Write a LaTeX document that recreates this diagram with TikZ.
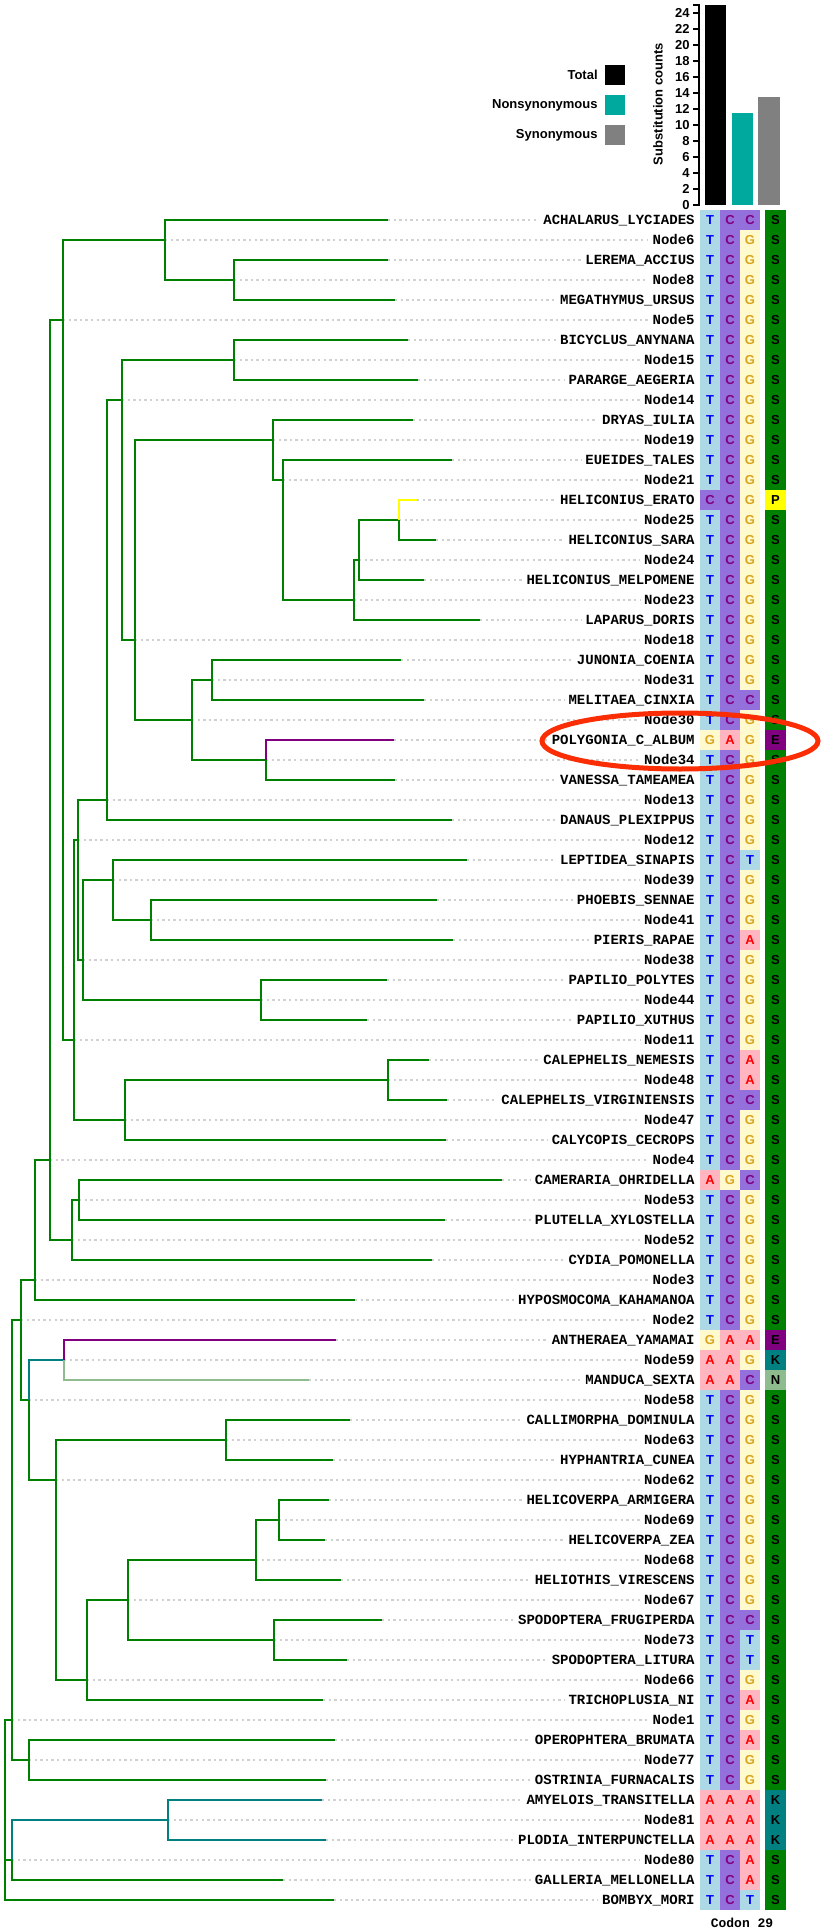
\documentclass[tikz,border=0pt]{standalone}
\usepackage{fontspec}
\setsansfont{Liberation Sans}
\setmonofont{Liberation Mono}
\definecolor{aaS}{HTML}{008000}
\definecolor{aaP}{HTML}{FFFF00}
\definecolor{aaE}{HTML}{800080}
\definecolor{aaK}{HTML}{008080}
\definecolor{aaN}{HTML}{8FBC8F}
\definecolor{bgT}{HTML}{ADD8E6}
\definecolor{fgT}{HTML}{0000FF}
\definecolor{bgC}{HTML}{9370DB}
\definecolor{fgC}{HTML}{800080}
\definecolor{bgG}{HTML}{FFFACD}
\definecolor{fgG}{HTML}{DAA520}
\definecolor{bgA}{HTML}{FFB6C1}
\definecolor{fgA}{HTML}{FF0000}
\definecolor{nonsyn}{HTML}{00A99D}
\definecolor{syn}{HTML}{808080}
\definecolor{ringred}{HTML}{FA2D05}

\begin{document}
\begin{tikzpicture}[x=0.5pt, y=-0.5pt,
    br/.style={line width=1pt, draw=aaS},
    dots/.style={draw=black!18, line width=0.8pt, dash pattern=on 1.2pt off 1.6pt, shorten >=2pt},
    lab/.style={anchor=east, inner sep=0pt, text height=4.4pt, text depth=0pt,
        font=\ttfamily\bfseries\fontsize{7}{8}\selectfont},
    cell/.style={minimum width=10pt, minimum height=10pt, inner sep=0pt,
        text height=4.6pt, text depth=0pt, font=\sffamily\bfseries\fontsize{6.5}{7}\selectfont},
    nuc/.style={cell, fill=bg#1, text=fg#1},
    prot/.style={cell, minimum width=10.5pt, fill=aa#1},
    ax/.style={inner sep=0pt, font=\sffamily\bfseries\fontsize{6.5}{7}\selectfont}]
\useasboundingbox (0,0) rectangle (825,1930);

% counts
\fill[black] (705,5) rectangle (726,205);
\fill[nonsyn] (732,113) rectangle (753,205);
\fill[syn] (758,97) rectangle (780,205);
\draw[line width=0.6pt] (693,5) -- (699,5) -- (699,205) -- (693,205);
\foreach \v in {0,2,...,24} {
    \draw[line width=0.6pt] (693,205-8*\v) -- (699,205-8*\v);
    \node[ax, anchor=east] (tick\v) at (690,205-8*\v) {\v};
}
\node[ax, rotate=90] (ylab) at (658,104) {Substitution counts};
\node[ax, anchor=east] (total) at (598,75) {Total};
\node[ax, anchor=east] (nonsynonymous) at (598,105) {Nonsynonymous};
\node[ax, anchor=east] (synonymous) at (598,135) {Synonymous};
\fill[black] (605,65) rectangle (625,85);
\fill[nonsyn] (605,95) rectangle (625,115);
\fill[syn] (605,125) rectangle (625,145);

% rows
\foreach \rw/\nm/\xx/\tx/\na/\nb/\nc/\am in {
    1/achalarus/388/ACHALARUS\_LYCIADES/T/C/C/S,
    2/node6/165/Node6/T/C/G/S,
    3/lerema/388/LEREMA\_ACCIUS/T/C/G/S,
    4/node8/234/Node8/T/C/G/S,
    5/megathymus/395/MEGATHYMUS\_URSUS/T/C/G/S,
    6/node5/63/Node5/T/C/G/S,
    7/bicyclus/408/BICYCLUS\_ANYNANA/T/C/G/S,
    8/node15/234/Node15/T/C/G/S,
    9/pararge/418/PARARGE\_AEGERIA/T/C/G/S,
    10/node14/122/Node14/T/C/G/S,
    11/dryas/413/DRYAS\_IULIA/T/C/G/S,
    12/node19/273/Node19/T/C/G/S,
    13/eueides/452/EUEIDES\_TALES/T/C/G/S,
    14/node21/283/Node21/T/C/G/S,
    15/erato/417/HELICONIUS\_ERATO/C/C/G/P,
    16/node25/399/Node25/T/C/G/S,
    17/sara/436/HELICONIUS\_SARA/T/C/G/S,
    18/node24/359/Node24/T/C/G/S,
    19/melpomene/424/HELICONIUS\_MELPOMENE/T/C/G/S,
    20/node23/354/Node23/T/C/G/S,
    21/laparus/480/LAPARUS\_DORIS/T/C/G/S,
    22/node18/135/Node18/T/C/G/S,
    23/junonia/401/JUNONIA\_COENIA/T/C/G/S,
    24/node31/212/Node31/T/C/G/S,
    25/melitaea/424/MELITAEA\_CINXIA/T/C/C/S,
    26/node30/192/Node30/T/C/G/S,
    27/polygonia/394/POLYGONIA\_C\_ALBUM/G/A/G/E,
    28/node34/266/Node34/T/C/G/S,
    29/vanessa/395/VANESSA\_TAMEAMEA/T/C/G/S,
    30/node13/107/Node13/T/C/G/S,
    31/danaus/452/DANAUS\_PLEXIPPUS/T/C/G/S,
    32/node12/78/Node12/T/C/G/S,
    33/leptidea/467/LEPTIDEA\_SINAPIS/T/C/T/S,
    34/node39/113/Node39/T/C/G/S,
    35/phoebis/437/PHOEBIS\_SENNAE/T/C/G/S,
    36/node41/151/Node41/T/C/G/S,
    37/pieris/453/PIERIS\_RAPAE/T/C/A/S,
    38/node38/83/Node38/T/C/G/S,
    39/polytes/387/PAPILIO\_POLYTES/T/C/G/S,
    40/node44/261/Node44/T/C/G/S,
    41/xuthus/367/PAPILIO\_XUTHUS/T/C/G/S,
    42/node11/74/Node11/T/C/G/S,
    43/nemesis/429/CALEPHELIS\_NEMESIS/T/C/A/S,
    44/node48/388/Node48/T/C/A/S,
    45/virginiensis/447/CALEPHELIS\_VIRGINIENSIS/T/C/C/S,
    46/node47/125/Node47/T/C/G/S,
    47/calycopis/446/CALYCOPIS\_CECROPS/T/C/G/S,
    48/node4/50/Node4/T/C/G/S,
    49/cameraria/502/CAMERARIA\_OHRIDELLA/A/G/C/S,
    50/node53/79/Node53/T/C/G/S,
    51/plutella/445/PLUTELLA\_XYLOSTELLA/T/C/G/S,
    52/node52/72/Node52/T/C/G/S,
    53/cydia/432/CYDIA\_POMONELLA/T/C/G/S,
    54/node3/35/Node3/T/C/G/S,
    55/hyposmocoma/355/HYPOSMOCOMA\_KAHAMANOA/T/C/G/S,
    56/node2/21/Node2/T/C/G/S,
    57/antheraea/336/ANTHERAEA\_YAMAMAI/G/A/A/E,
    58/node59/64/Node59/A/A/G/K,
    59/manduca/309/MANDUCA\_SEXTA/A/A/C/N,
    60/node58/29/Node58/T/C/G/S,
    61/callimorpha/350/CALLIMORPHA\_DOMINULA/T/C/G/S,
    62/node63/226/Node63/T/C/G/S,
    63/hyphantria/333/HYPHANTRIA\_CUNEA/T/C/G/S,
    64/node62/56/Node62/T/C/G/S,
    65/armigera/329/HELICOVERPA\_ARMIGERA/T/C/G/S,
    66/node69/279/Node69/T/C/G/S,
    67/zea/325/HELICOVERPA\_ZEA/T/C/G/S,
    68/node68/256/Node68/T/C/G/S,
    69/heliothis/341/HELIOTHIS\_VIRESCENS/T/C/G/S,
    70/node67/128/Node67/T/C/G/S,
    71/frugiperda/382/SPODOPTERA\_FRUGIPERDA/T/C/C/S,
    72/node73/274/Node73/T/C/T/S,
    73/litura/347/SPODOPTERA\_LITURA/T/C/T/S,
    74/node66/87/Node66/T/C/G/S,
    75/trichoplusia/323/TRICHOPLUSIA\_NI/T/C/A/S,
    76/node1/12/Node1/T/C/G/S,
    77/operophtera/335/OPEROPHTERA\_BRUMATA/T/C/A/S,
    78/node77/29/Node77/T/C/G/S,
    79/ostrinia/326/OSTRINIA\_FURNACALIS/T/C/G/S,
    80/amyelois/322/AMYELOIS\_TRANSITELLA/A/A/A/K,
    81/node81/168/Node81/A/A/A/K,
    82/plodia/326/PLODIA\_INTERPUNCTELLA/A/A/A/K,
    83/node80/12/Node80/T/C/A/S,
    84/galleria/283/GALLERIA\_MELLONELLA/T/C/A/S,
    85/bombyx/334/BOMBYX\_MORI/T/C/T/S} {
    \coordinate (\nm) at (\xx,200+20*\rw);
    \node[lab] (l\nm) at (695,200+20*\rw) {\tx};
    \draw[dots] (\nm) -- (l\nm.west);
    \node[nuc=\na] (\nm-1) at (710,200+20*\rw) {\na};
    \node[nuc=\nb] (\nm-2) at (730,200+20*\rw) {\nb};
    \node[nuc=\nc] (\nm-3) at (750,200+20*\rw) {\nc};
    \node[prot=\am] (\nm-aa) at (775.5,200+20*\rw) {\am};
}
\coordinate (root) at (5,1860);

% tree
\foreach \pa/\ch in {node6/achalarus, node6/node8, node8/lerema, node8/megathymus,
    node5/node6, node5/node11, node15/bicyclus, node15/pararge, node14/node15,
    node14/node18, node19/dryas, node19/node21, node21/eueides, node21/node23,
    node25/sara, node24/node25, node24/melpomene, node23/node24, node23/laparus,
    node18/node19, node18/node30, node31/junonia, node31/melitaea, node30/node31,
    node30/node34, node34/vanessa, node13/node14, node13/danaus, node12/node13,
    node12/node38, node39/leptidea, node39/node41, node41/phoebis, node41/pieris,
    node38/node39, node38/node44, node44/polytes, node44/xuthus, node11/node12,
    node11/node47, node48/nemesis, node48/virginiensis, node47/node48,
    node47/calycopis, node4/node5, node4/node52, node53/cameraria, node53/plutella,
    node52/node53, node52/cydia, node3/node4, node3/hyposmocoma, node2/node3,
    node2/node58, node58/node62, node63/callimorpha, node63/hyphantria,
    node62/node63, node62/node66, node69/armigera, node69/zea, node68/node69,
    node68/heliothis, node67/node68, node67/node73, node73/frugiperda,
    node73/litura, node66/node67, node66/trichoplusia, node1/node2, node1/node77,
    node77/operophtera, node77/ostrinia, root/node1, root/node80, root/bombyx,
    node80/galleria}
    \draw[br] (\pa) |- (\ch);
\draw[br, draw=aaP] (node25) |- (erato);
\draw[br, draw=aaE] (node34) |- (polygonia);
\draw[br, draw=aaK] (node58) |- (node59);
\draw[br, draw=aaE] (node59) |- (antheraea);
\draw[br, draw=aaN] (node59) |- (manduca);
\draw[br, draw=aaK] (node80) |- (node81);
\draw[br, draw=aaK] (node81) |- (amyelois);
\draw[br, draw=aaK] (node81) |- (plodia);

\draw[ringred, line width=2.5pt] (680,741) ellipse [x radius=69pt, y radius=14pt];
\node[font=\ttfamily\bfseries\fontsize{6.5}{7}\selectfont, inner sep=0pt] (codon) at (742,1923) {Codon 29};
\end{tikzpicture}
\end{document}
